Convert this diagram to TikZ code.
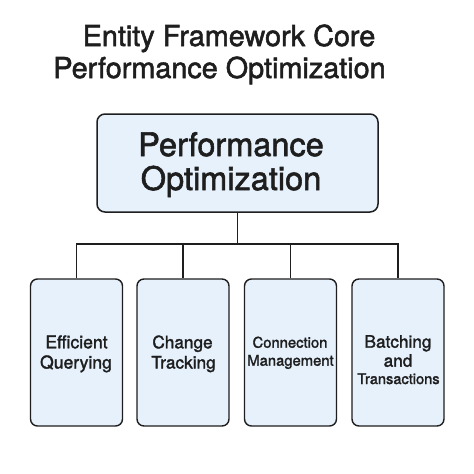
\documentclass[tikz,border=0pt]{standalone}
\usepackage{fontspec}
\setmainfont{TeX Gyre Heros}
\newfontfamily\medfont{TeX Gyre Heros}[FakeBold=1.8]
\definecolor{boxfill}{HTML}{E6F1FC}
\definecolor{ink}{HTML}{1E1E1E}
\begin{document}
\begin{tikzpicture}[x=1pt,y=-1pt,
  mainbox/.style={draw=ink,line width=1.5pt,fill=boxfill,rounded corners=8pt,
    minimum width=281pt,minimum height=98pt,inner sep=0pt},
  subbox/.style={draw=ink,line width=1.4pt,fill=boxfill,rounded corners=7pt,
    minimum width=92pt,minimum height=147pt,inner sep=0pt},
  wire/.style={draw=ink,line width=1.2pt},
  txt/.style={anchor=base,inner sep=0pt,text=ink}]
\useasboundingbox (0,0) rectangle (474,474);
\fill[white] (0,0) rectangle (474,474);
% title
\node[txt,font=\medfont\fontsize{28.8}{32}\selectfont] (title1) at (229,46) {Entity Framework Core};
\node[txt,font=\medfont\fontsize{28.8}{32}\selectfont] (title2) at (219.5,78) {Performance Optimization};
% boxes
\node[mainbox] (top) at (237.5,163) {};
\node[subbox] (c1) at (76.5,352.5) {};
\node[subbox] (c2) at (183,352.5) {};
\node[subbox] (c3) at (290.5,352.5) {};
\node[subbox] (c4) at (398,352.5) {};
% box texts
\node[txt,font=\medfont\fontsize{32.5}{34}\selectfont] (topa) at (231,156) {Performance};
\node[txt,font=\medfont\fontsize{32.5}{34}\selectfont] (topb) at (231,190) {Optimization};
\node[txt,font=\medfont\fontsize{17.6}{20}\selectfont] (c1a) at (76.5,348.3) {Efficient};
\node[txt,font=\medfont\fontsize{17.6}{20}\selectfont] (c1b) at (76,368.5) {Querying};
\node[txt,font=\medfont\fontsize{17.2}{20}\selectfont] (c2a) at (182.5,348.3) {Change};
\node[txt,font=\medfont\fontsize{17.2}{20}\selectfont] (c2b) at (183.5,368.5) {Tracking};
\node[txt,font=\medfont\fontsize{14.8}{18}\selectfont] (c3a) at (290,347.7) {Connection};
\node[txt,font=\medfont\fontsize{14.8}{18}\selectfont] (c3b) at (290.5,365.7) {Management};
\node[txt,font=\medfont\fontsize{17.2}{20}\selectfont] (c4a) at (398,347.7) {Batching};
\node[txt,font=\medfont\fontsize{17.2}{20}\selectfont] (c4b) at (398,366.7) {and};
\node[txt,font=\medfont\fontsize{14.6}{18}\selectfont] (c4c) at (398.5,384) {Transactions};
% connectors
\coordinate (j) at (237.5,244);
\draw[wire] (top.south) -- (j);
\draw[wire] (c1.north) |- (j) -| (c4.north);
\draw[wire] (c2.north) -- (c2.north |- j);
\draw[wire] (c3.north) -- (c3.north |- j);
\end{tikzpicture}
\end{document}
